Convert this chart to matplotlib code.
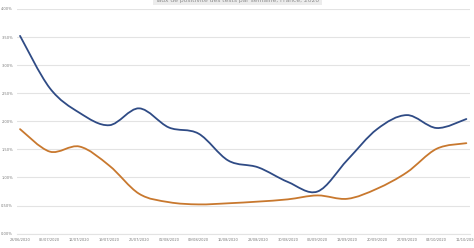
import numpy as np
from matplotlib import pyplot as plt
from matplotlib.path import Path
from matplotlib.patches import PathPatch
from matplotlib.ticker import PercentFormatter

# Data (weekly points)
dates = ["28/06/2020", "05/07/2020", "12/07/2020", "19/07/2020", "26/07/2020",
         "02/08/2020", "09/08/2020", "16/08/2020", "23/08/2020", "30/08/2020",
         "06/09/2020", "13/09/2020", "20/09/2020", "27/09/2020", "04/10/2020",
         "11/10/2020"]
blue_vals = [3.52, 2.59, 2.15, 1.93, 2.23, 1.89, 1.78, 1.30, 1.18, 0.92,
             0.75, 1.31, 1.86, 2.11, 1.88, 2.04]
orange_vals = [1.86, 1.46, 1.55, 1.21, 0.71, 0.56, 0.52, 0.54, 0.57, 0.61,
               0.68, 0.62, 0.80, 1.09, 1.51, 1.61]

blue = "#2f4b85"
orange = "#c8782e"


def smooth_path(x, y, t=1/6):
    # Excel-like smoothed line: cubic bezier segments through the points
    pts = np.column_stack([x, y])
    verts = [pts[0]]
    codes = [Path.MOVETO]
    n = len(pts)
    for i in range(n - 1):
        p0 = pts[i - 1] if i > 0 else pts[i]
        p1 = pts[i]
        p2 = pts[i + 1]
        p3 = pts[i + 2] if i + 2 < n else pts[i + 1]
        c1 = p1 + (p2 - p0) * t
        c2 = p2 - (p3 - p1) * t
        verts += [c1, c2, p2]
        codes += [Path.CURVE4] * 3
    return Path(verts, codes)


fig = plt.figure(figsize=(4.74, 2.48), dpi=100)
ax = fig.add_axes([0.036, 0.058, 0.956, 0.906])

x = np.arange(len(dates))
for vals, col in [(blue_vals, blue), (orange_vals, orange)]:
    ax.add_patch(PathPatch(smooth_path(x, np.array(vals)), facecolor="none",
                           edgecolor=col, lw=1.3, capstyle="round"))

ax.set_xlim(-0.1, 15.13)
ax.set_ylim(0, 4.0)
ax.set_yticks(np.arange(0, 4.01, 0.5))
ax.yaxis.set_major_formatter(PercentFormatter(decimals=2))
ax.set_xticks(x)
ax.set_xticklabels(dates)
ax.grid(axis="y", color="#e3e3e3", lw=0.8)
ax.set_axisbelow(True)
for s in ax.spines.values():
    s.set_visible(False)
ax.spines["bottom"].set_visible(True)
ax.spines["bottom"].set_color("#e3e3e3")
ax.tick_params(length=0, labelsize=2.6, labelcolor="#7a7a7a", pad=3)

# title (cut off at the top and barely legible in the reference)
fig.text(0.501, 1.0, "Taux de positivité des tests par semaine, France, 2020",
         ha="center", va="center", fontsize=4.3, color="#8c8c8c",
         bbox=dict(facecolor="#ececec", edgecolor="none", pad=1.5))

fig.savefig("out.png", dpi=100)
